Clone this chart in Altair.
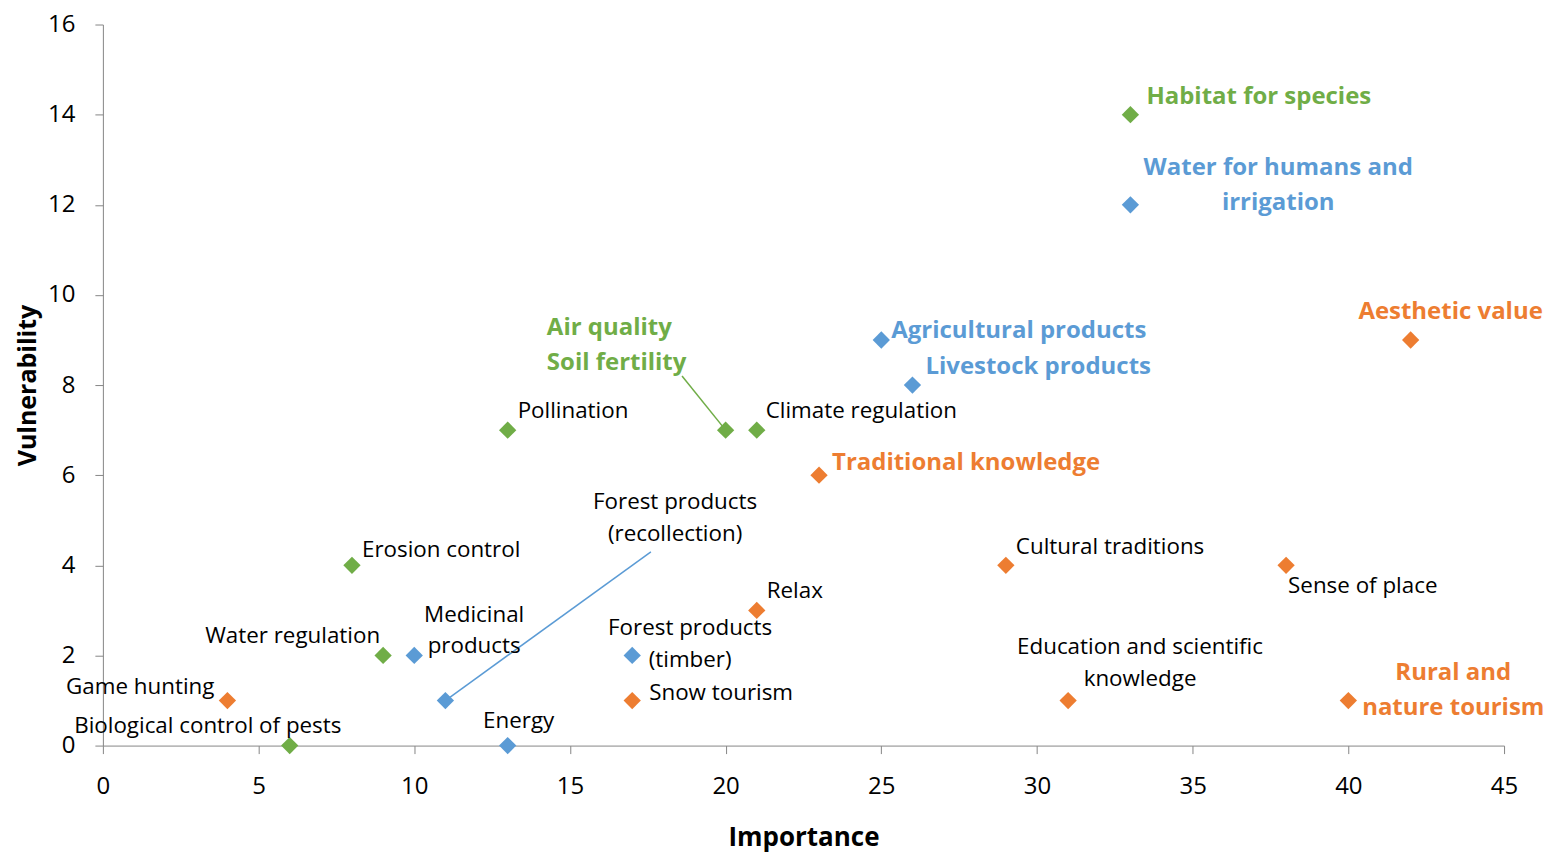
import altair as alt
import pandas as pd

# ---- data ----
names = [
    "Habitat for species", "Air quality / Soil fertility", "Climate regulation", "Pollination",
    "Erosion control", "Water regulation", "Biological control of pests",
    "Water for humans and irrigation", "Agricultural products", "Livestock products",
    "Medicinal products", "Forest products (recollection)", "Forest products (timber)", "Energy",
    "Aesthetic value", "Traditional knowledge", "Cultural traditions", "Sense of place", "Relax",
    "Education and scientific knowledge", "Snow tourism", "Rural and nature tourism", "Game hunting",
]
importance = [33, 20, 21, 13, 8, 9, 6, 33, 25, 26, 10, 11, 17, 13, 42, 23, 29, 38, 21, 31, 17, 40, 4]
vulnerability = [14, 7, 7, 7, 4, 2, 0, 12, 9, 8, 2, 1, 2, 0, 9, 6, 4, 4, 3, 1, 1, 1, 1]
groups = ["Regulating"] * 7 + ["Provisioning"] * 7 + ["Cultural"] * 9

group_names = ["Regulating", "Provisioning", "Cultural"]
group_colors = ["#70AD47", "#5B9BD5", "#ED7D31"]

x_ticks = [0, 5, 10, 15, 20, 25, 30, 35, 40, 45]
y_ticks = [0, 2, 4, 6, 8, 10, 12, 14, 16]

# leader lines: point end and label end
leader_name = ["Air quality / Soil fertility", "Forest products (recollection)"]
leader_x = [20, 11]
leader_y = [7, 1]
leader_x2 = [18.6, 17.6]
leader_y2 = [8.2, 4.3]
leader_group = ["Regulating", "Provisioning"]

df = pd.DataFrame({"name": names, "Importance": importance, "Vulnerability": vulnerability, "group": groups})
leaders = pd.DataFrame({"name": leader_name, "x": leader_x, "y": leader_y, "x2": leader_x2, "y2": leader_y2,
                        "group": leader_group})

color_of = dict(zip(group_names, group_colors))

# label lines: (point name, line text, bold)
label_lines = [
    ("Habitat for species", "Habitat for species", True),
    ("Air quality / Soil fertility", "Air quality", True),
    ("Air quality / Soil fertility", "Soil fertility", True),
    ("Climate regulation", "Climate regulation", False),
    ("Pollination", "Pollination", False),
    ("Erosion control", "Erosion control", False),
    ("Water regulation", "Water regulation", False),
    ("Biological control of pests", "Biological control of pests", False),
    ("Water for humans and irrigation", "Water for humans and", True),
    ("Water for humans and irrigation", "irrigation", True),
    ("Agricultural products", "Agricultural products", True),
    ("Livestock products", "Livestock products", True),
    ("Medicinal products", "Medicinal", False),
    ("Medicinal products", "products", False),
    ("Forest products (recollection)", "Forest products", False),
    ("Forest products (recollection)", "(recollection)", False),
    ("Forest products (timber)", "Forest products", False),
    ("Forest products (timber)", "(timber)", False),
    ("Energy", "Energy", False),
    ("Aesthetic value", "Aesthetic value", True),
    ("Traditional knowledge", "Traditional knowledge", True),
    ("Cultural traditions", "Cultural traditions", False),
    ("Sense of place", "Sense of place", False),
    ("Relax", "Relax", False),
    ("Education and scientific knowledge", "Education and scientific", False),
    ("Education and scientific knowledge", "knowledge", False),
    ("Snow tourism", "Snow tourism", False),
    ("Rural and nature tourism", "Rural and", True),
    ("Rural and nature tourism", "nature tourism", True),
    ("Game hunting", "Game hunting", False),
]
# pixel offsets (dx, dy, align) per label line, same order
label_style = [
    (16, -18, "left"),
    (-179, -102, "left"),
    (-179, -67, "left"),
    (9, -19, "left"),
    (10, -19, "left"),
    (10, -15, "left"),
    (-3, -19, "right"),
    (-82, -20, "center"),
    (148, -37, "center"),
    (148, -2, "center"),
    (10, -9, "left"),
    (13, -18, "left"),
    (60, -41, "center"),
    (60, -9, "center"),
    (230, -199, "center"),
    (230, -167, "center"),
    (58, -27, "center"),
    (58, 5, "center"),
    (11, -25, "center"),
    (40, -28, "center"),
    (13, -12, "left"),
    (10, -18, "left"),
    (2, 21, "left"),
    (10, -19, "left"),
    (72, -54, "center"),
    (72, -22, "center"),
    (17, -8, "left"),
    (105, -28, "center"),
    (105, 7, "center"),
    (-13, -14, "right"),
]

FONT = "Open Sans"

xscale = alt.Scale(domain=[0, 45], nice=False, zero=False)
yscale = alt.Scale(domain=[0, 16], nice=False, zero=False)
cscale = alt.Scale(domain=group_names, range=group_colors)

base = alt.Chart(df)

axis_common = dict(grid=False, domainColor="#868686", tickColor="#868686", tickSize=8,
                   labelFontSize=24, labelColor="#000000", labelFlush=False, labelOverlap=False,
                   titleFontWeight="bold", titleColor="#000000",
                   labelFont=FONT, titleFont=FONT, format="d")

points = base.mark_point(shape="diamond", filled=True, size=300, opacity=1).encode(
    x=alt.X("Importance:Q", scale=xscale,
            axis=alt.Axis(values=x_ticks, title="Importance", labelPadding=21, titlePadding=26,
                          titleFontSize=26, **axis_common)),
    y=alt.Y("Vulnerability:Q", scale=yscale,
            axis=alt.Axis(values=y_ticks, title="Vulnerability", labelPadding=20, titlePadding=7,
                          titleFontSize=25, **axis_common)),
    color=alt.Color("group:N", scale=cscale, legend=None),
)

leader_layer = alt.Chart(leaders).mark_rule(strokeWidth=1.5).encode(
    x="x:Q", y="y:Q", x2="x2:Q", y2="y2:Q",
    color=alt.Color("group:N", scale=cscale, legend=None),
)

layers = [leader_layer, points]
for (pname, txt, bold), (dx, dy, align) in zip(label_lines, label_style):
    grp = groups[names.index(pname)]
    col = color_of[grp] if bold else "#000000"
    layer = base.transform_filter(alt.datum.name == pname).transform_calculate(
        lbl=f"'{txt}'"
    ).mark_text(
        dx=dx, dy=dy, align=align, baseline="middle", font=FONT,
        fontSize=24 if bold else 22.4, fontWeight="bold" if bold else "normal", color=col,
    ).encode(x="Importance:Q", y="Vulnerability:Q", text="lbl:N")
    layers.append(layer)

chart = alt.layer(*layers).properties(
    width=1403, height=722,
    autosize=alt.AutoSizeParams(type="none"),
    padding={"left": 95, "top": 16, "right": 40, "bottom": 108},
).configure(background="white").configure_view(strokeWidth=0, stroke="transparent")

chart.save("out.html", embed_options={"renderer": "svg", "actions": False})
